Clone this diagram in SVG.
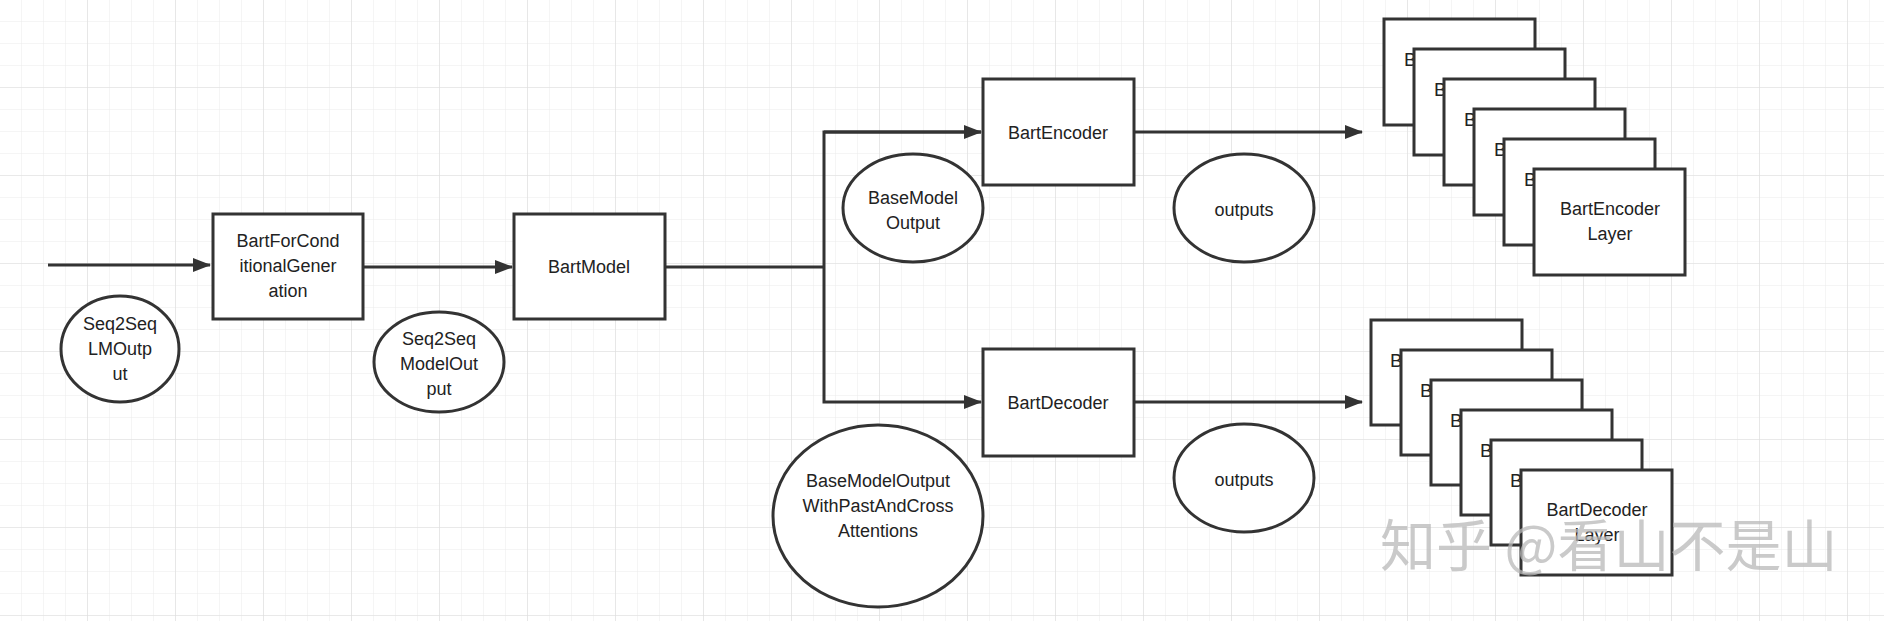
<svg xmlns="http://www.w3.org/2000/svg" width="1884" height="621" viewBox="0 0 1884 621">
<defs>
<pattern id="g" width="22" height="22" patternUnits="userSpaceOnUse"><path d="M22 0V22H0" fill="none" stroke="#ebebeb" stroke-width="1"/></pattern>
<pattern id="G" width="88" height="88" patternUnits="userSpaceOnUse"><path d="M88 0V88H0" fill="none" stroke="#dedede" stroke-width="1.2"/></pattern>
<marker id="a" markerWidth="18" markerHeight="14" refX="17" refY="7" orient="auto" markerUnits="userSpaceOnUse"><path d="M0 0L18 7L0 14Z" fill="#333"/></marker>
</defs>
<style>
.b{fill:#fff;stroke:#333;stroke-width:3}
.t{font-family:"Liberation Sans",Arial,sans-serif;font-size:18px;fill:#222;text-anchor:middle}
.s{font-family:"Liberation Sans",Arial,sans-serif;font-size:19px;fill:#222}
.c{fill:none;stroke:#333;stroke-width:3}
</style>
<rect width="1884" height="621" fill="#fff"/>
<rect width="1884" height="621" fill="url(#g)"/>
<rect width="1884" height="621" fill="url(#G)"/>
<g id="connectors">
<path class="c" d="M48 265H210" marker-end="url(#a)"/>
<path class="c" d="M363 267H512" marker-end="url(#a)"/>
<path class="c" d="M665 267H824"/>
<path class="c" d="M981 132H824V402H981" marker-end="url(#a)"/>
<path class="c" d="M824 132H981" marker-end="url(#a)"/>
<path class="c" d="M1134 132H1362" marker-end="url(#a)"/>
<path class="c" d="M1134 402H1362" marker-end="url(#a)"/>
</g>
<g id="bfcg"><rect class="b" x="213" y="214" width="150" height="105"/><text class="t" x="288" y="247">BartForCond</text><text class="t" x="288" y="272">itionalGener</text><text class="t" x="288" y="297">ation</text></g>
<g id="bartmodel"><rect class="b" x="514" y="214" width="151" height="105"/><text class="t" x="589" y="273">BartModel</text></g>
<g id="encoder"><rect class="b" x="983" y="79" width="151" height="106"/><text class="t" x="1058" y="139">BartEncoder</text></g>
<g id="decoder"><rect class="b" x="983" y="349" width="151" height="107"/><text class="t" x="1058" y="409">BartDecoder</text></g>
<g id="lmout"><ellipse class="b" cx="120" cy="349" rx="59" ry="53"/><text class="t" x="120" y="330">Seq2Seq</text><text class="t" x="120" y="355">LMOutp</text><text class="t" x="120" y="380">ut</text></g>
<g id="modelout"><ellipse class="b" cx="439" cy="362" rx="65" ry="50"/><text class="t" x="439" y="345">Seq2Seq</text><text class="t" x="439" y="370">ModelOut</text><text class="t" x="439" y="395">put</text></g>
<g id="bmo"><ellipse class="b" cx="913" cy="208" rx="70" ry="54"/><text class="t" x="913" y="204">BaseModel</text><text class="t" x="913" y="229">Output</text></g>
<g id="out1"><ellipse class="b" cx="1244" cy="208" rx="70" ry="54"/><text class="t" x="1244" y="216">outputs</text></g>
<g id="out2"><ellipse class="b" cx="1244" cy="478" rx="70" ry="54"/><text class="t" x="1244" y="486">outputs</text></g>
<g id="bmowpca"><ellipse class="b" cx="878" cy="516" rx="105" ry="91"/><text class="t" x="878" y="487">BaseModelOutput</text><text class="t" x="878" y="512">WithPastAndCross</text><text class="t" x="878" y="537">Attentions</text></g>
<g id="enclayers">
<rect class="b" x="1384" y="19" width="151" height="106"/><text class="s" x="1404" y="66">B</text>
<rect class="b" x="1414" y="49" width="151" height="106"/><text class="s" x="1434" y="96">B</text>
<rect class="b" x="1444" y="79" width="151" height="106"/><text class="s" x="1464" y="126">B</text>
<rect class="b" x="1474" y="109" width="151" height="106"/><text class="s" x="1494" y="156">B</text>
<rect class="b" x="1504" y="139" width="151" height="106"/><text class="s" x="1524" y="186">B</text>
<rect class="b" x="1534" y="169" width="151" height="106"/><text class="t" x="1610" y="215">BartEncoder</text><text class="t" x="1610" y="240">Layer</text>
</g>
<g id="declayers">
<rect class="b" x="1371" y="320" width="151" height="105"/><text class="s" x="1390" y="367">B</text>
<rect class="b" x="1401" y="350" width="151" height="105"/><text class="s" x="1420" y="397">B</text>
<rect class="b" x="1431" y="380" width="151" height="105"/><text class="s" x="1450" y="427">B</text>
<rect class="b" x="1461" y="410" width="151" height="105"/><text class="s" x="1480" y="457">B</text>
<rect class="b" x="1491" y="440" width="151" height="105"/><text class="s" x="1510" y="487">B</text>
<rect class="b" x="1521" y="470" width="151" height="105"/><text class="t" x="1597" y="516">BartDecoder</text><text class="t" x="1597" y="541">Layer</text>
</g>
<text x="1380" y="566" font-family="'Noto Sans CJK SC',sans-serif" font-size="56" fill="#b8b8b8" fill-opacity="0.75">知乎 @看山不是山</text>
</svg>
